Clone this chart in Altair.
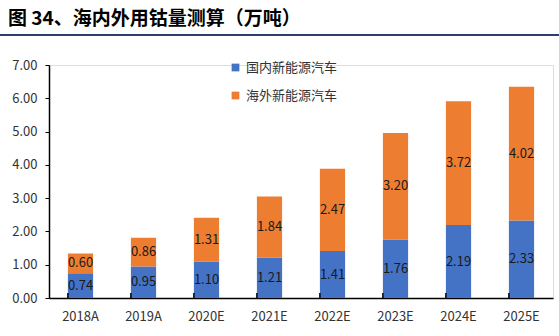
import altair as alt
import pandas as pd

categories = ["2018A", "2019A", "2020E", "2021E", "2022E", "2023E", "2024E", "2025E"]
domestic = [0.74, 0.95, 1.10, 1.21, 1.41, 1.76, 2.19, 2.33]
overseas = [0.60, 0.86, 1.31, 1.84, 2.47, 3.20, 3.72, 4.02]
series_names = ["国内新能源汽车", "海外新能源汽车"]
colors = ["#4472C4", "#ED7D31"]
y_ticks = [0, 1, 2, 3, 4, 5, 6, 7]
title_text = "图 34、海内外用钴量测算（万吨）"

rows = []
for i, c in enumerate(categories):
    rows.append({"cat": c, "series": series_names[0], "val": domestic[i], "ord": 0})
    rows.append({"cat": c, "series": series_names[1], "val": overseas[i], "ord": 1})
df = pd.DataFrame(rows)

FONT = "Noto Sans CJK SC"
W, H = 504, 233

base = alt.Chart(df).transform_stack(
    stack="val", as_=["y0", "y1"], groupby=["cat"], sort=[alt.SortField("ord")]
).transform_calculate(mid="(datum.y0 + datum.y1) / 2")

yaxis = alt.Axis(values=y_ticks, format=".2f", grid=False, labelOverlap=False,
                 tickSize=4, tickColor="#000000", labelPadding=8,
                 labelFontSize=13, labelColor="#333333",
                 domainColor="#000000", domainWidth=1.5, labelFont=FONT)
yscale = alt.Scale(domain=[0, 7], nice=False)
xaxis = alt.Axis(labelAngle=0, ticks=False, labelPadding=12, labelFontSize=13,
                 labelColor="#333333", domainColor="#000000", domainWidth=1.5,
                 labelFont=FONT)
xscale = alt.Scale(paddingInner=0.6, paddingOuter=0.3)

bars = base.mark_bar().encode(
    x=alt.X("cat:N", sort=categories, title=None, scale=xscale, axis=xaxis),
    y=alt.Y("y0:Q", title=None, scale=yscale, axis=yaxis),
    y2="y1:Q",
    color=alt.Color("series:N", sort=series_names,
                    scale=alt.Scale(domain=series_names, range=colors),
                    legend=alt.Legend(title=None, orient="none", legendX=180, legendY=-4,
                                      symbolType="square", symbolSize=60, symbolStrokeWidth=0,
                                      labelFontSize=13, labelColor="#333333", rowPadding=14,
                                      labelFont=FONT)),
    order=alt.Order("ord:Q"),
)

labels = base.mark_text(fontSize=13, color="#1a1a1a", font=FONT).encode(
    x=alt.X("cat:N", sort=categories, title=None, scale=xscale, axis=xaxis),
    y=alt.Y("mid:Q", title=None, scale=yscale, axis=yaxis),
    text=alt.Text("val:Q", format=".2f"),
)

tick_df = pd.DataFrame({"cat": categories})
ticks = alt.Chart(tick_df).mark_rule(color="#000000", strokeWidth=1.5).encode(
    x=alt.X("cat:N", sort=categories, bandPosition=0, title=None, scale=xscale, axis=xaxis),
    y=alt.value(H),
    y2=alt.value(H - 5),
)

title_df = pd.DataFrame({"t": [title_text]})
title = alt.Chart(title_df).mark_text(
    align="left", baseline="middle", fontSize=19, fontWeight="bold", font=FONT, color="#000000"
).encode(x=alt.value(-41), y=alt.value(-46), text="t:N")

line = alt.Chart(title_df).mark_rule(color="#2E3D6B", strokeWidth=2).encode(
    x=alt.value(-49), x2=alt.value(510), y=alt.value(-30)
)

chart = alt.layer(bars, labels, ticks, title, line).properties(
    width=W, height=H,
    autosize=alt.AutoSizeParams(type="none"),
    padding={"left": 49, "top": 65, "right": 6, "bottom": 38},
).configure_view(stroke=None).configure(background="#ffffff")

chart.save("out.html", embed_options={"renderer": "svg", "actions": False})
